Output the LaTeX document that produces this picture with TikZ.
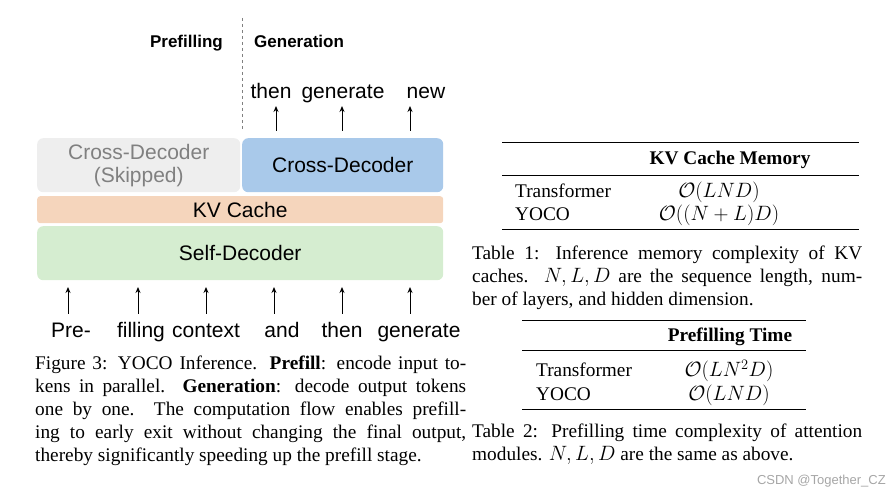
\documentclass[tikz,border=0pt]{standalone}
\usepackage{fontspec}
\setmainfont{Liberation Serif}
\setsansfont{Liberation Sans}
\usetikzlibrary{arrows.meta}
\definecolor{skipgray}{HTML}{EEEEEE}
\definecolor{blueb}{HTML}{A9C9EA}
\definecolor{kvc}{HTML}{F5D5BC}
\definecolor{greenb}{HTML}{D5EDD0}
\begin{document}
\begin{tikzpicture}[x=1pt,y=-1pt,
  blk/.style={rounded corners=6pt,inner sep=0pt,font=\sffamily\fontsize{21}{23}\selectfont},
  lbl/.style={font=\sffamily\fontsize{21}{23}\selectfont,anchor=base,inner sep=0pt},
  arr/.style={-{Stealth[length=6pt,width=5pt]},line width=1pt},
  captxt/.style={font=\fontsize{19.3}{23}\selectfont,anchor=north west,inner sep=0pt,align=justify},
  rl/.style={line width=0.8pt},
  tx/.style={font=\fontsize{19.3}{20}\selectfont,anchor=base west,inner sep=0pt},
  mth/.style={font=\fontsize{19.3}{20}\selectfont,anchor=base,inner sep=0pt}]
\useasboundingbox (0,0) rectangle (892,494);
\draw[gray,dashed,line width=1pt] (242,18) -- (242,130);
\node[anchor=base east,inner sep=0pt,font=\sffamily\bfseries\fontsize{17}{19}\selectfont] (pf) at (223,48) {Prefilling};
\node[anchor=base west,inner sep=0pt,font=\sffamily\bfseries\fontsize{17}{19}\selectfont] (gn) at (254,48) {Generation};
\node[blk,fill=skipgray,text=gray,minimum width=203pt,minimum height=54pt,align=center,anchor=north west] (cs) at (37,138) {Cross-Decoder\\(Skipped)};
\node[blk,fill=blueb,minimum width=201pt,minimum height=54pt,anchor=north west] (cd) at (242,138) {Cross-Decoder};
\node[blk,rounded corners=3pt,fill=kvc,minimum width=406pt,minimum height=27pt,anchor=north west] (kv) at (37,196) {KV Cache};
\node[blk,fill=greenb,minimum width=406pt,minimum height=54pt,anchor=north west] (sd) at (37,226) {Self-Decoder};
\node[lbl] (g1) at (271,99) {then};
\node[lbl] (g2) at (343,99) {generate};
\node[lbl] (g3) at (426,99) {new};
\foreach \x/\n in {276/a,342/b,410/c}{
  \coordinate (s\n) at (\x,131);
  \coordinate (e\n) at (\x,106);
  \draw[arr] (s\n) -- (e\n);}
\foreach \x/\n in {68/a,138/b,206/c,274/d,342/e,410/f}{
  \coordinate (p\n) at (\x,314);
  \coordinate (q\n) at (\x,287);
  \draw[arr] (p\n) -- (q\n);}
\node[lbl] (w1) at (71,338) {Pre-};
\node[lbl] (w2) at (141,338) {filling};
\node[lbl] (w3) at (206,338) {context};
\node[lbl] (w4) at (282,338) {and};
\node[lbl] (w5) at (342,338) {then};
\node[lbl] (w6) at (419,338) {generate};
\node[captxt,text width=431pt] (c3) at (35,356) {Figure 3: YOCO Inference. \textbf{Prefill}: encode input to-\linebreak kens in parallel. \textbf{Generation}: decode output tokens\linebreak one by one.\ \ The computation flow enables prefill-\linebreak ing to early exit without changing the final output,\linebreak thereby significantly speeding up the prefill stage.};
% Table 1
\draw[rl] (502,142) -- (859,142);
\draw[rl] (502,175) -- (859,175);
\draw[rl] (502,229) -- (859,229);
\node[mth,font=\bfseries\fontsize{19.3}{20}\selectfont] (h1) at (730,165) {KV Cache Memory};
\node[tx] (t1a) at (515,198) {Transformer};
\node[tx] (t1b) at (515,221) {YOCO};
\node[mth] (m1a) at (719,198) {$\mathcal{O}(LND)$};
\node[mth] (m1b) at (719,221) {$\mathcal{O}((N+L)D)$};
\node[captxt,text width=390pt] (c1) at (472,246) {Table 1: Inference memory complexity of KV\linebreak caches. $N,L,D$ are the sequence length, num-\linebreak ber of layers, and hidden dimension.};
% Table 2
\draw[rl] (522,320) -- (806,320);
\draw[rl] (522,350) -- (806,350);
\draw[rl] (522,409) -- (806,409);
\node[mth,font=\bfseries\fontsize{19.3}{20}\selectfont] (h2) at (730,342) {Prefilling Time};
\node[tx] (t2a) at (536,377) {Transformer};
\node[tx] (t2b) at (536,400) {YOCO};
\node[mth] (m2a) at (729,377) {$\mathcal{O}(LN^2D)$};
\node[mth] (m2b) at (729,400) {$\mathcal{O}(LND)$};
\node[captxt,text width=390pt] (c2) at (472,424) {Table 2: Prefilling time complexity of attention\linebreak modules. $N,L,D$ are the same as above.};
\node[anchor=base east,inner sep=0pt,text=gray!70,font=\sffamily\fontsize{13}{14}\selectfont] (wm) at (886,484) {CSDN @Together\_CZ};
\end{tikzpicture}
\end{document}
